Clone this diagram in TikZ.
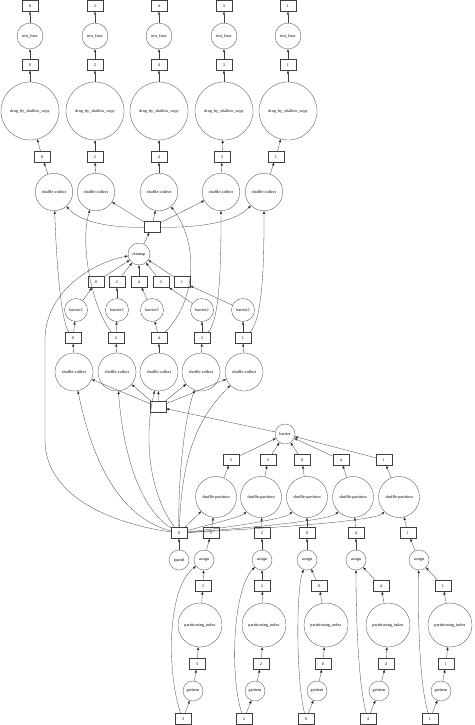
\documentclass[tikz,border=0pt]{standalone}
\usepackage{fontspec}
\setmainfont{Liberation Serif}
\usetikzlibrary{arrows.meta}
\begin{document}
\begin{tikzpicture}[x=1pt,y=-1pt,font=\fontsize{4.2}{5}\selectfont,
  fn/.style={circle,draw=black!75,line width=0.3pt,inner sep=0pt},
  bx/.style={rectangle,draw=black!75,line width=0.3pt,minimum width=16pt,minimum height=11pt,inner sep=0pt},
  arr/.style={draw=black!75,-{Triangle[length=3pt,width=2.2pt,fill=black]},line width=0.3pt}]
\useasboundingbox (0,0) rectangle (474,725);
% ---------- upper part ----------
\foreach \i/\x/\lab in {0/30/0,1/95/2,2/159/4,3/224/3,4/288/1}{
  \node[bx] (o\i) at (\x,6) {\lab};
  \node[fn,minimum size=26pt] (tf\i) at (\x,36) {test\_func};
  \node[bx] (p\i) at (\x,65) {\lab};
  \node[fn,minimum size=58pt] (d\i) at (\x,111) {drop\_by\_shallow\_copy};
}
\foreach \i/\x/\lab in {0/42/0,1/95/2,2/159/4,3/222/3,4/276/1}{
  \node[bx] (t\i) at (\x,157) {\lab};
}
\foreach \i/\x in {0/54,1/96,2/159,3/221,4/264}{
  \node[fn,minimum size=37.5pt] (u\i) at (\x,192) {shuffle-collect};
}
\node[bx] (S) at (152,227) {};
\node[fn,minimum size=22pt] (C) at (139,254) {cleanup};
\foreach \i/\x/\lab in {0/96/0,1/117/2,2/139/4,3/161/3,4/182/1}{
  \node[bx] (n\i) at (\x,282) {\lab};
}
\foreach \i/\x in {0/76,1/117,2/152,3/202,4/243}{
  \node[fn,minimum size=23pt] (b\i) at (\x,310) {barrier2};
}
\foreach \i/\x/\lab in {0/73/0,1/116/2,2/159/4,3/202/3,4/243/1}{
  \node[bx] (m\i) at (\x,338) {\lab};
}
\foreach \i/\x in {0/74,1/117,2/159,3/201,4/244}{
  \node[fn,minimum size=38pt] (l\i) at (\x,372) {shuffle-collect};
}
\node[bx] (BB) at (158,407) {};
\node[fn,minimum size=20pt] (BR) at (285,434) {barrier};
% ---------- lower part ----------
\foreach \i/\x/\lab in {0/231/3,1/268/2,2/302/0,3/341/4,4/384/1}{
  \node[bx] (q\i) at (\x,460) {\lab};
}
\foreach \i/\x in {0/216,1/261,2/307,3/353,4/399}{
  \node[fn,minimum size=41pt] (sp\i) at (\x,497) {shuffle-partition};
}
\node[bx] (zp) at (179,533) {0};
\node[fn,minimum size=20pt] (Z) at (179,560) {zpartd};
\foreach \i/\x/\lab in {0/211/3,1/262/2,2/307/0,3/356/4,4/408/1}{
  \node[bx] (bx\i) at (\x,533) {\lab};
}
\foreach \i/\x in {0/204,1/262,2/307,3/356,4/419}{
  \node[fn,minimum size=20pt] (a\i) at (\x,560) {assign};
}
\foreach \i/\x/\lab in {0/203/3,1/262/2,2/319/0,3/381/4,4/443/1}{
  \node[bx] (r\i) at (\x,586) {\lab};
}
\foreach \i/\x in {0/200,1/264,2/326,3/388,4/450}{
  \node[fn,minimum size=44pt] (pi\i) at (\x,625) {partitioning\_index};
}
\foreach \i/\x/\lab in {0/197/3,1/261/2,2/323/0,3/386/4,4/446/1}{
  \node[bx] (g\i) at (\x,664) {\lab};
}
\foreach \i/\x in {0/193,1/255,2/317,3/379,4/441}{
  \node[fn,minimum size=20pt] (gi\i) at (\x,691) {getitem};
}
\foreach \i/\x/\lab in {0/183/3,1/244/2,2/306/0,3/368/4,4/430/1}{
  \node[bx] (in\i) at (\x,719) {\lab};
}
% ---------- edges: straight chains ----------
\foreach \i in {0,...,4}{
  \draw[arr] (tf\i) -- (o\i);
  \draw[arr] (p\i) -- (tf\i);
  \draw[arr] (d\i) -- (p\i);
  \draw[arr] (t\i) -- (d\i);
  \draw[arr] (u\i) -- (t\i);
  \draw[arr] (n\i) -- (C);
  \draw[arr] (b\i) -- (n\i);
  \draw[arr] (m\i) -- (b\i);
  \draw[arr] (l\i) -- (m\i);
  \draw[arr] (BB) -- (l\i);
  \draw[arr] (q\i) -- (BR);
  \draw[arr] (sp\i) -- (q\i);
  \draw[arr] (bx\i) -- (sp\i);
  \draw[arr] (a\i) -- (bx\i);
  \draw[arr] (r\i) -- (a\i);
  \draw[arr] (pi\i) -- (r\i);
  \draw[arr] (g\i) -- (pi\i);
  \draw[arr] (gi\i) -- (g\i);
  \draw[arr] (in\i) -- (gi\i);
}
\draw[arr] (C) -- (S);
\draw[arr] (S) .. controls (110,228) and (80,222) .. (u0);
\draw[arr] (S) -- (u1);
\draw[arr] (S) -- (u2);
\draw[arr] (S) -- (u3);
\draw[arr] (S) .. controls (200,228) and (235,222) .. (u4);
% m -> u long edges
\draw[arr] (m0) .. controls (60,320) and (56,250) .. (u0);
\draw[arr] (m1) .. controls (90,305) and (80,240) .. (u1);
\draw[arr] (m2) .. controls (198,300) and (198,240) .. (u2);
\draw[arr] (m3) .. controls (221,320) and (221,250) .. (u3);
\draw[arr] (m4) .. controls (264,320) and (264,250) .. (u4);
% zpartd box -> lower shuffle-collect
\draw[arr] (zp) .. controls (110,515) and (88,440) .. (l0);
\draw[arr] (zp) .. controls (135,505) and (122,440) .. (l1);
\draw[arr] (zp) .. controls (150,495) and (143,440) .. (l2);
\draw[arr] (zp) .. controls (178,480) and (184,420) .. (l3);
\draw[arr] (zp) .. controls (182,470) and (190,425) .. (l4);
% zpartd box -> cleanup
\draw[arr] (zp) .. controls (120,525) and (45,500) .. (45,440) -- (45,340) .. controls (45,290) and (95,262) .. (C);
% barrier
\draw[arr] (BR) -- (BB);
% zpartd
\draw[arr] (Z) -- (zp);
\draw[arr] (zp) -- (sp0);
\foreach \i/\x in {1/261,2/307,3/353,4/399}{
  \draw[arr] (zp) .. controls (\x-50,524) and (\x-20,517) .. (sp\i);
}
% inputs -> assign
\draw[arr] (in0) .. controls (168,680) and (165,590) .. (a0);
\draw[arr] (in1) .. controls (230,680) and (232,590) .. (a1);
\draw[arr] (in2) .. controls (296,680) and (296,590) .. (a2);
\draw[arr] (in3) .. controls (357,680) and (356,600) .. (a3);
\draw[arr] (in4) .. controls (418,680) and (418,600) .. (a4);
\end{tikzpicture}
\end{document}
